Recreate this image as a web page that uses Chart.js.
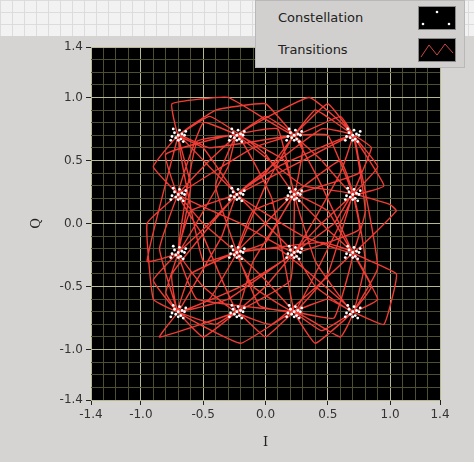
<!DOCTYPE html>
<html><head><meta charset="utf-8">
<script src="https://cdn.jsdelivr.net/npm/chart.js@4"></script>
<style>
html,body{margin:0;padding:0;background:#d6d4d2;}
#wrap{position:relative;width:474px;height:462px;overflow:hidden;}
#top{position:absolute;left:0;top:0;width:474px;height:36px;background:#f2f2f2;
background-image:linear-gradient(#dcdcdc 1px,transparent 1px),linear-gradient(90deg,#dcdcdc 1px,transparent 1px);background-size:12px 12px;}
#leg{position:absolute;left:255px;top:0;width:208px;height:66px;background:#d2d0ce;border:1px solid #b8b8b8;font-family:"DejaVu Sans",sans-serif;font-size:13px;color:#222;}
.li{position:absolute;left:22px;}
.sw{position:absolute;left:162px;width:36px;height:22px;background:#000;border:1px solid #888;}
canvas{position:absolute;left:0;top:0;}
</style></head><body>
<div id="wrap"><div id="top"></div>
<canvas id="c" width="474" height="462"></canvas>
<div id="leg">
<div class="li" style="top:9px">Constellation</div><div class="sw" style="top:5px"><svg width="36" height="22"><circle cx="18" cy="5" r="1.3" fill="#fff"/><circle cx="4" cy="17" r="1.3" fill="#fff"/><circle cx="30" cy="17" r="1.3" fill="#fff"/></svg></div>
<div class="li" style="top:41px">Transitions</div><div class="sw" style="top:37px"><svg width="36" height="22"><polyline points="2,18 10,6 18,16 26,5 34,14" fill="none" stroke="#c84a40" stroke-width="1"/></svg></div>
</div></div>
<script>
const tickLabels=[-1.4,-1.0,-0.5,0.0,0.5,1.0,1.4];
const centers=[[-0.7,0.7],[-0.23,0.7],[0.23,0.7],[0.7,0.7],[-0.7,0.23],[-0.23,0.23],[0.23,0.23],[0.7,0.23],[-0.7,-0.23],[-0.23,-0.23],[0.23,-0.23],[0.7,-0.23],[-0.7,-0.7],[-0.23,-0.7],[0.23,-0.7],[0.7,-0.7]];
const jitter=[[0,0],[0.03,0.01],[-0.03,0.02],[0.02,-0.03],[-0.02,-0.02],[0.05,0.0],[-0.05,-0.01],[0.01,0.04],[0.0,-0.04],[0.06,0.03],[-0.04,0.05],[0.04,-0.05],[-0.06,-0.04]];
const transitions=[[-0.7,0.7],[-0.45,0.85],[-0.23,0.72],[0.0,0.55],[0.23,0.23],[0.5,-0.05],[0.7,-0.23],[0.85,-0.5],[0.7,-0.7],[0.45,-0.85],[0.23,-0.7],[0.0,-0.45],[-0.23,-0.23],[-0.5,0.0],[-0.7,0.23],[-0.9,0.45],[-0.7,0.7],[-0.4,0.9],[0.0,0.95],[0.23,0.7],[0.45,0.5],[0.7,0.23],[0.95,0.3],[0.7,0.7],[0.5,0.95],[0.23,0.7],[0.0,0.3],[-0.23,-0.23],[-0.45,-0.6],[-0.7,-0.7],[-0.9,-0.45],[-0.7,-0.23],[-0.45,0.0],[-0.23,0.23],[0.0,0.4],[0.23,0.7],[0.4,0.9],[0.7,0.7],[0.9,0.45],[0.7,0.23],[0.45,0.0],[0.23,-0.23],[0.0,-0.5],[-0.23,-0.7],[-0.5,-0.9],[-0.7,-0.7],[-0.85,-0.2],[-0.7,0.23],[-0.45,0.5],[-0.23,0.7],[0.0,0.85],[0.23,0.7],[0.45,0.3],[0.7,-0.23],[0.9,-0.6],[0.7,-0.7],[0.4,-0.5],[0.23,-0.23],[0.0,0.0],[-0.23,0.23],[-0.45,0.45],[-0.7,0.7],[-0.6,0.3],[-0.7,-0.23],[-0.8,-0.55],[-0.7,-0.7],[-0.4,-0.8],[-0.23,-0.7],[0.0,-0.9],[0.23,-0.7],[0.5,-0.6],[0.7,-0.7],[0.95,-0.8],[1.05,-0.4],[0.7,-0.23],[0.5,0.1],[0.23,0.23],[0.0,0.0],[-0.23,-0.23],[-0.1,-0.5],[0.23,-0.7],[0.5,-0.4],[0.7,0.23],[0.85,0.6],[0.7,0.7],[0.3,0.5],[-0.23,0.23],[-0.6,0.1],[-0.7,-0.23],[-0.5,-0.5],[-0.23,-0.7],[-0.1,-0.3],[0.23,0.23],[0.3,0.6],[0.23,0.7],[-0.1,0.6],[-0.7,0.23],[-0.95,0.0],[-0.9,-0.6],[-0.7,-0.7],[-0.3,-0.6],[0.23,-0.23],[0.55,0.0],[0.7,0.23],[1.0,0.15],[1.05,0.1],[0.7,-0.23],[0.3,-0.1],[-0.23,0.23],[-0.5,0.6],[-0.7,0.7],[-0.75,0.95],[-0.3,1.0],[0.23,0.7],[0.6,0.85],[0.7,0.7],[0.6,0.4],[0.23,-0.23],[-0.2,-0.5],[-0.7,-0.7],[-0.6,-0.4],[-0.23,-0.23],[0.1,-0.2],[0.7,-0.7],[0.6,-0.9],[0.23,-0.7],[-0.2,-0.95],[-0.7,-0.7],
[-0.75,-0.4],[-0.23,0.23],[0.1,0.45],[0.7,0.7],[0.75,0.4],[0.23,0.23],[-0.1,0.1],[-0.23,-0.23],[0.0,-0.15],[0.23,0.23],[0.6,0.5],[0.7,0.23],[0.5,-0.2],[0.23,-0.7],[-0.05,-0.65],[-0.23,-0.23],[-0.4,0.3],[-0.23,0.7],[0.1,0.75],[0.23,0.23],[0.4,-0.3],[0.7,-0.7],[0.8,-0.3],[0.7,0.23],[0.3,0.3],[-0.23,0.7],[-0.5,0.8],[-0.7,0.23],[-0.5,-0.1],[-0.23,-0.7],[0.05,-0.8],[0.7,-0.23],[0.8,0.1],[0.7,0.7],[0.45,0.75],[-0.23,0.23],[-0.35,-0.1],[-0.7,-0.7],[-0.85,-0.9],[-0.23,-0.7],[0.2,-0.45],[0.23,0.23],[0.15,0.5],[-0.23,0.7],[-0.55,0.65],[-0.7,-0.23],[-0.55,-0.6],[0.23,-0.7],[0.55,-0.75],[0.7,-0.23],[0.45,-0.15],[-0.23,-0.23],[-0.5,-0.3],[-0.7,0.7],[-0.45,0.6],[0.23,0.7],[0.5,0.7],[0.7,0.23],[0.75,-0.05],[0.23,-0.23],[-0.2,0.0],[-0.7,0.23],[-0.8,0.55],[-0.23,0.7],[0.05,0.2],[0.23,-0.7],[0.4,-0.95],[0.7,-0.7],[0.9,-0.35],[0.7,0.7],[0.35,1.0],[-0.23,0.7],[-0.3,0.45],[-0.7,-0.23],[-0.95,-0.3],[-0.7,0.7]];

const constPts=[];centers.forEach(c=>jitter.forEach(j=>constPts.push({x:c[0]+j[0],y:c[1]+j[1]})));
const transPts=transitions.map(p=>({x:p[0],y:p[1]}));
const isMajor=v=>tickLabels.some(t=>Math.abs(t-v)<1e-6);
function mkScale(axis){
 return {type:'linear',min:-1.4,max:1.4,
  afterBuildTicks:s=>{const t=[];for(let i=-14;i<=14;i++)t.push({value:i/10});s.ticks=t;},
  afterFit:s=>{if(axis==='x')s.height=50;else s.width=66;},
  ticks:{autoSkip:false,maxRotation:0,color:'#333',font:{family:'DejaVu Sans',size:12},padding:3,
   callback:v=>isMajor(v)?v.toFixed(1):''},
  grid:{color:c=>isMajor(c.tick.value)?'#b8b890':'#4e4e30',lineWidth:1,drawTicks:true,tickLength:5,
   tickColor:c=>isMajor(c.tick.value)?'#222':'rgba(0,0,0,0)'},
  border:{display:false},
  title:{display:true,text:axis==='x'?'I':'Q',color:'#222',font:{family:'DejaVu Serif',size:13},padding:{top:4,bottom:0}}
 };
}
const bg={id:'bg',beforeDraw(ch){const a=ch.chartArea,x=ch.ctx;x.save();x.fillStyle='#000';x.fillRect(a.left,a.top,a.right-a.left,a.bottom-a.top);x.restore();}};
new Chart(document.getElementById('c'),{type:'scatter',
 data:{datasets:[
  {label:'Transitions',data:transPts,showLine:true,borderColor:'#f03c34',borderWidth:1.4,pointRadius:0,tension:0.1,order:2},
  {label:'Constellation',data:constPts,pointRadius:1.4,pointBackgroundColor:'#fff',pointBorderColor:'#fff',pointBorderWidth:0,order:1}
 ]},
 options:{responsive:false,animation:false,
  layout:{padding:{top:47,right:34,left:25,bottom:12}},
  plugins:{legend:{display:false},tooltip:{enabled:false}},
  scales:{x:mkScale('x'),y:mkScale('y')}},
 plugins:[bg]});
</script></body></html>
